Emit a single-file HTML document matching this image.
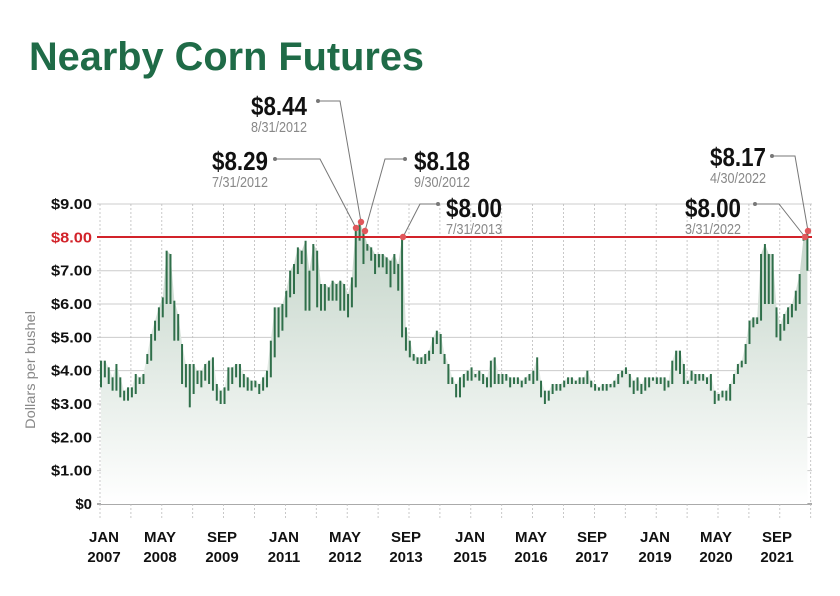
<!DOCTYPE html>
<html><head><meta charset="utf-8">
<style>
body{margin:0;background:#fff;}
svg{display:block;}
.t{font-family:"Liberation Sans Narrow","Liberation Sans",sans-serif;}
</style></head><body>
<svg id="s" width="840" height="596" xmlns="http://www.w3.org/2000/svg">
<defs>
<linearGradient id="g" x1="0" y1="0" x2="0" y2="1">
<stop offset="0" stop-color="#c3d4c8"/><stop offset="1" stop-color="#ffffff"/>
</linearGradient>
</defs>
<text x="29" y="70" font-family="Liberation Sans,sans-serif" font-weight="bold" font-size="40" fill="#1f6b47" textLength="395" lengthAdjust="spacingAndGlyphs">Nearby Corn Futures</text>
<g id="grid"></g>
<path id="area" fill="url(#g)"/>
<g id="bars"></g>
<line x1="97" y1="237" x2="812" y2="237" stroke="#d2232a" stroke-width="2"/>
<g id="ann" fill="none" stroke="#777" stroke-width="1"></g>
<g id="lbl"></g>
<text class="t" transform="translate(35,370) rotate(-90)" text-anchor="middle" font-size="14" fill="#888" textLength="118" lengthAdjust="spacingAndGlyphs">Dollars per bushel</text>
</svg>
<script>
const NS="http://www.w3.org/2000/svg";
function el(p,tag,a,txt){const e=document.createElementNS(NS,tag);for(const k in a)e.setAttribute(k,a[k]);if(txt!==undefined)e.textContent=txt;document.getElementById(p).appendChild(e);return e;}
const Y=p=>504-33.33*p, X=m=>101+3.86*m;
for(let k=0;k<=9;k++){el('grid','line',{x1:97,x2:812,y1:Y(k),y2:Y(k),stroke:k==0?'#aaa':'#ccc','stroke-width':k==0?2:1});}
for(let x=100;x<=812;x+=30.9){el('grid','line',{x1:x,x2:x,y1:204,y2:518,stroke:'#bbb','stroke-width':0.8,'stroke-dasharray':'2,2'});}
const hi=[4.3,4.3,4.1,3.8,4.2,3.8,3.4,3.5,3.5,3.9,3.8,3.9, 4.5,5.1,5.5,5.9,6.2,7.6,7.5,6.1,5.7,4.8,4.2,4.2, 4.2,4.0,4.0,4.2,4.3,4.4,3.6,3.4,3.5,4.1,4.1,4.2, 4.2,3.9,3.8,3.7,3.7,3.6,3.8,4.0,4.9,5.9,5.9,6.0, 6.4,7.0,7.2,7.7,7.6,7.9,7.0,7.8,7.6,6.6,6.6,6.5, 6.7,6.6,6.7,6.6,6.3,6.8,8.29,8.44,8.18,7.8,7.7,7.5, 7.5,7.5,7.4,7.3,7.5,7.2,8.0,5.3,4.9,4.5,4.4,4.4, 4.5,4.6,5.0,5.2,5.1,4.5,4.2,3.8,3.6,3.8,3.9,4.0, 4.1,3.9,4.0,3.9,3.8,4.3,4.4,3.9,3.9,3.9,3.8,3.8, 3.8,3.7,3.8,3.9,4.0,4.4,3.7,3.4,3.4,3.6,3.6,3.6, 3.7,3.8,3.8,3.7,3.8,3.8,4.0,3.7,3.6,3.5,3.6,3.6, 3.6,3.7,3.9,4.0,4.1,3.9,3.7,3.8,3.6,3.8,3.8,3.8, 3.8,3.8,3.8,3.7,4.3,4.6,4.6,4.2,3.7,4.0,3.9,3.9, 3.9,3.8,3.9,3.4,3.3,3.4,3.4,3.6,3.9,4.2,4.3,4.8, 5.5,5.6,5.6,7.5,7.8,7.5,7.5,5.9,5.4,5.7,5.9,6.0, 6.4,6.9,8.0,8.17];
const lo=[3.5,3.8,3.6,3.4,3.4,3.2,3.1,3.1,3.2,3.3,3.6,3.6, 4.2,4.3,4.9,5.2,5.6,6.0,6.0,4.9,4.9,3.6,3.5,2.9, 3.3,3.6,3.5,3.7,3.6,3.4,3.1,3.0,3.0,3.4,3.6,3.8, 3.5,3.5,3.4,3.4,3.5,3.3,3.4,3.5,3.8,4.4,5.0,5.2, 5.6,6.2,6.3,6.9,7.2,5.8,5.8,7.0,5.9,5.8,5.8,6.1, 6.1,6.1,5.8,5.8,5.6,5.9,6.5,7.9,7.2,7.6,7.3,6.9, 7.1,7.1,6.9,6.5,6.9,6.4,5.0,4.6,4.4,4.3,4.2,4.2, 4.2,4.3,4.5,4.8,4.5,4.2,3.6,3.6,3.2,3.2,3.5,3.7, 3.7,3.8,3.7,3.6,3.5,3.5,3.6,3.6,3.6,3.7,3.5,3.6, 3.6,3.5,3.6,3.7,3.6,3.7,3.2,3.0,3.1,3.3,3.4,3.4, 3.5,3.6,3.6,3.6,3.6,3.6,3.6,3.5,3.4,3.4,3.4,3.4, 3.5,3.5,3.6,3.8,3.9,3.5,3.3,3.4,3.3,3.4,3.5,3.7, 3.6,3.6,3.4,3.5,3.6,4.0,3.9,3.6,3.6,3.7,3.6,3.7, 3.7,3.6,3.4,3.0,3.1,3.2,3.1,3.1,3.6,3.9,4.1,4.2, 4.8,5.3,5.4,5.5,6.0,6.0,6.0,5.0,4.9,5.2,5.4,5.6, 5.8,6.0,7.9,7.0];
let d="M"+X(0)+","+Y(0);
hi.forEach((h,i)=>{d+=" L"+X(i)+","+Y(h);});
d+=" L"+X(hi.length-1)+","+Y(0)+" Z";
document.getElementById('area').setAttribute('d',d);
hi.forEach((h,i)=>{el('bars','line',{x1:X(i),x2:X(i),y1:Y(h),y2:Y(lo[i]),stroke:'#2f6f4a','stroke-width':2});});
for(let k=0;k<=9;k++){const t=k==0?'$0':'$'+k+'.00';const a={x:92,y:Y(k)+5,'text-anchor':'end','font-size':15,'font-weight':'bold','class':'t',fill:k==8?'#d2232a':'#111'};if(k>0){a.textLength=41;a.lengthAdjust='spacingAndGlyphs';}el('lbl','text',a,t);}
const xl=[["JAN","2007",104],["MAY","2008",160],["SEP","2009",222],["JAN","2011",284],["MAY","2012",345],["SEP","2013",406],["JAN","2015",470],["MAY","2016",531],["SEP","2017",592],["JAN","2019",655],["MAY","2020",716],["SEP","2021",777]];
xl.forEach(a=>{el('lbl','text',{x:a[2],y:542,'text-anchor':'middle','font-size':15,'font-weight':'bold','class':'t',fill:'#111'},a[0]);el('lbl','text',{x:a[2],y:562,'text-anchor':'middle','font-size':15,'font-weight':'bold','class':'t',fill:'#111'},a[1]);});
const an=[
["$8.44","8/31/2012",251,115,'start',[[318,101],[340,101],[361,222]]],
["$8.29","7/31/2012",212,170,'start',[[275,159],[320,159],[356,228]]],
["$8.18","9/30/2012",414,170,'start',[[405,159],[385,159],[365,231]]],
["$8.00","7/31/2013",446,217,'start',[[438,204],[420,204],[403,237]]],
["$8.00","3/31/2022",741,217,'end',[[755,204],[779,204],[805,237]]],
["$8.17","4/30/2022",766,166,'end',[[772,156],[795,156],[808,231]]]];
an.forEach(a=>{
 el('lbl','text',{x:a[2],y:a[3],'text-anchor':a[4],'font-size':26,'font-weight':'bold','class':'t',fill:'#111',textLength:56,lengthAdjust:'spacingAndGlyphs'},a[0]);
 el('lbl','text',{x:a[2],y:a[3]+17,'text-anchor':a[4],'font-size':15,'class':'t',fill:'#888',textLength:56,lengthAdjust:'spacingAndGlyphs'},a[1]);
 const p=a[5];el('ann','polyline',{points:p.map(q=>q.join(',')).join(' ')});
 el('lbl','circle',{cx:p[0][0],cy:p[0][1],r:2,fill:'#777'});
 el('lbl','circle',{cx:p[2][0],cy:p[2][1],r:3.2,fill:'#e0575b'});
});
</script>
</body></html>
